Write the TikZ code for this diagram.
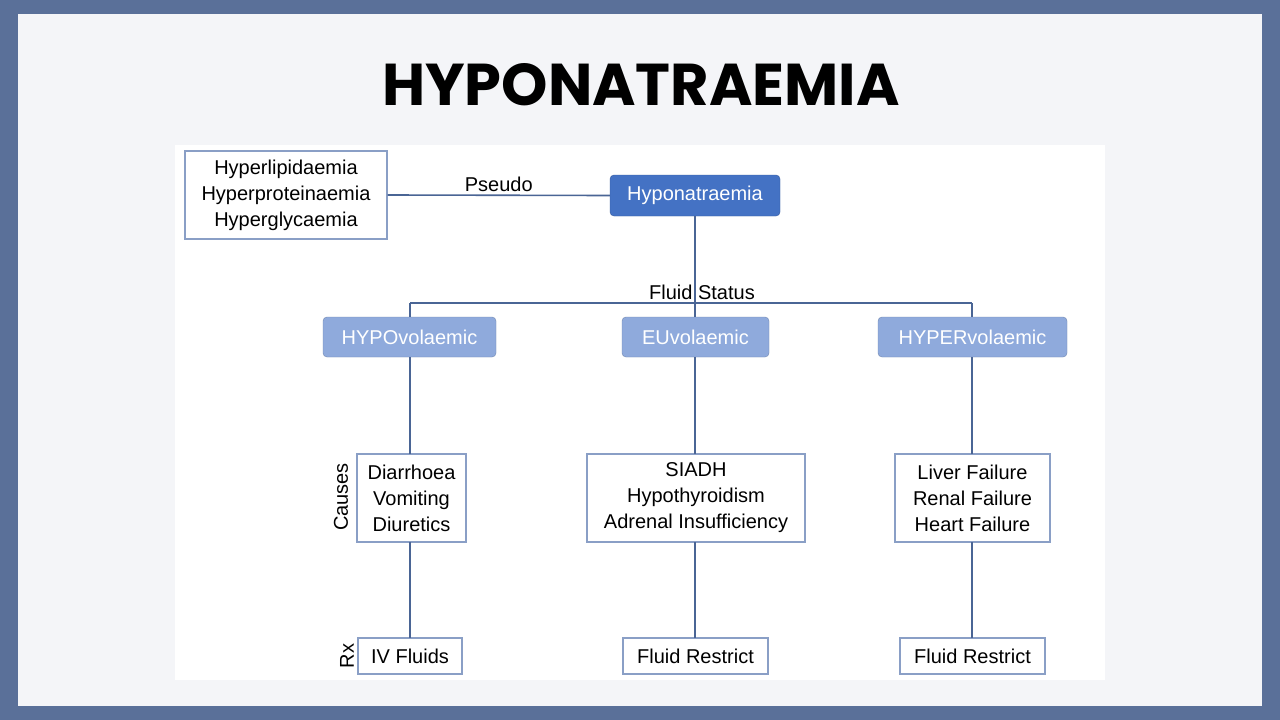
\documentclass[tikz,border=0pt]{standalone}
\usepackage{fontspec}
\setmainfont{Liberation Sans}
\newfontfamily\titlefont{Poppins}
\begin{document}
\begin{tikzpicture}[x=1pt,y=-1pt,
  txt/.style={font=\fontsize{20}{26}\selectfont, text=black},
  wbox/.style={txt, draw=boxc, line width=1.3pt, fill=white, align=center, inner sep=0pt},
  bbox/.style={font=\fontsize{20}{26}\selectfont, text=white, rounded corners=4pt, draw=lblue!80!black, fill=lblue, inner sep=0pt},
  ln/.style={draw=linec, line width=1.6pt}]
\definecolor{frame}{HTML}{5A7099}
\definecolor{bg}{HTML}{F4F5F8}
\definecolor{dblue}{HTML}{4472C4}
\definecolor{lblue}{HTML}{8FAADC}
\definecolor{boxc}{HTML}{8A9FC6}
\definecolor{linec}{HTML}{4A6595}
\fill[frame] (0,0) rectangle (1280,720);
\fill[bg] (18,14) rectangle (1262,706);
\fill[white] (175,145) rectangle (1105,680);
\node[font=\titlefont\bfseries\fontsize{59}{64}\selectfont] (title) at (641,85) {HYPONATRAEMIA};
\node[bbox, fill=dblue, draw=dblue!80!black, minimum width=170pt, minimum height=41pt] (root) at (695,195.5) {Hyponatraemia};
\node[wbox, minimum width=202pt, minimum height=88pt] (pseudo) at (286,195) {Hyperlipidaemia\\Hyperproteinaemia\\Hyperglycaemia};
\draw[ln] (pseudo.east) -- node[txt, above, yshift=-1pt] {Pseudo} (root.west);
\node[bbox, minimum width=173pt, minimum height=40pt] (hypo) at (409.5,337) {HYPOvolaemic};
\node[bbox, minimum width=147pt, minimum height=40pt] (eu) at (695.5,337) {EUvolaemic};
\node[bbox, minimum width=189pt, minimum height=40pt] (hyper) at (972.5,337) {HYPERvolaemic};
\coordinate (j) at (695,303);
\coordinate (jl) at (410,303);
\coordinate (jr) at (972,303);
\draw[ln] (root.south) -- (j);
\draw[ln] (jl) -- (jr);
\draw[ln] (jl) -- (410,317);
\draw[ln] (jr) -- (972,317);
\draw[ln] (j) -- (695,317);
\node[txt, inner sep=1pt] (fs) at (702,292) {Fluid Status};
\node[wbox, minimum width=109pt, minimum height=88pt] (c1) at (411.5,498) {Diarrhoea\\Vomiting\\Diuretics};
\node[wbox, minimum width=218pt, minimum height=88pt] (c2) at (696,498) {SIADH\\Hypothyroidism\\Adrenal Insufficiency};
\node[wbox, minimum width=155pt, minimum height=88pt] (c3) at (972.5,498) {Liver Failure\\Renal Failure\\Heart Failure};
\node[txt, rotate=90] (causes) at (341,497) {Causes};
\node[wbox, minimum width=104pt, minimum height=36pt] (r1) at (410,656) {IV Fluids};
\node[wbox, minimum width=145pt, minimum height=36pt] (r2) at (695.5,656) {Fluid Restrict};
\node[wbox, minimum width=145pt, minimum height=36pt] (r3) at (972.5,656) {Fluid Restrict};
\node[txt, rotate=90] (rx) at (347,656) {Rx};
\draw[ln] (410,357) -- (410,454);
\draw[ln] (695,357) -- (695,454);
\draw[ln] (972,357) -- (972,454);
\draw[ln] (410,542) -- (410,638);
\draw[ln] (695,542) -- (695,638);
\draw[ln] (972,542) -- (972,638);
\end{tikzpicture}
\end{document}
